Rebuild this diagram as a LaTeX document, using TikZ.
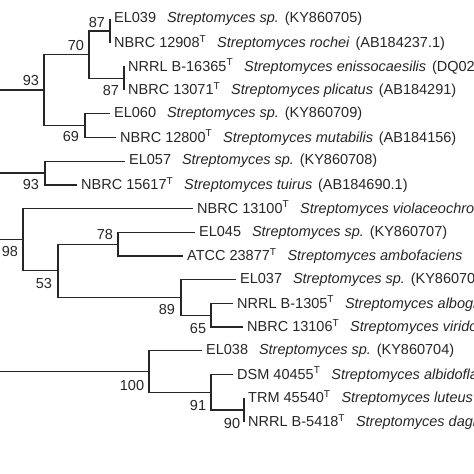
\documentclass[tikz,border=0pt]{standalone}
\usepackage{fontspec}
\setmainfont{Liberation Sans}
\usetikzlibrary{positioning}
\newcommand{\typestr}{\textsuperscript{T}}
\newcommand{\spname}[1]{\hspace{0.75em}\textit{#1}\hspace{0.4em}}

\tikzset{
  branch/.style={line width=1.3pt, black!85},
  leaf/.style={anchor=west, inner xsep=4pt, inner ysep=0pt, font=\fontsize{14.5}{17}\selectfont, text=black!85},
  boot/.style={font=\fontsize{14.5}{17}\selectfont, text=black!85, inner sep=0pt},
}

\begin{document}
\begin{tikzpicture}[x=1pt, y=-1pt]
    \useasboundingbox (0,0) rectangle (474,474);
    \clip (0,0) rectangle (474,474);

    % root stubs (cut at the left edge)
    \coordinate (r1) at (-5,90.1);
    \coordinate (r2) at (-5,173);
    \coordinate (r3) at (-5,239.7);
    \coordinate (r4) at (-5,371.6);

    % internal nodes
    \coordinate (n93a) at (44,90.1);
    \coordinate (n70) at (89,54.6);
    \coordinate (n87a) at (110,30.9);
    \coordinate (n87b) at (124,78.3);
    \coordinate (n69) at (85,125.7);
    \coordinate (n93b) at (45,173);
    \coordinate (n98) at (23,239.7);
    \coordinate (n53) at (58,270.8);
    \coordinate (n78) at (118,244.2);
    \coordinate (n89) at (181,297.5);
    \coordinate (n65) at (211,315.3);
    \coordinate (n100) at (149,371.6);
    \coordinate (n91) at (211,392.3);
    \coordinate (n90) at (244,410);

    % leaves
    \node[leaf] (l1) at (110,19) {EL039\spname{Streptomyces sp.}(KY860705)};
    \node[leaf] (l2) at (110,42.7) {NBRC 12908\typestr\spname{Streptomyces rochei}(AB184237.1)};
    \node[leaf] (l3) at (124,66.4) {NRRL B-16365\typestr\spname{Streptomyces enissocaesilis}(DQ026641)};
    \node[leaf] (l4) at (124,90.1) {NBRC 13071\typestr\spname{Streptomyces plicatus}(AB184291)};
    \node[leaf] (l5) at (110,113.8) {EL060\spname{Streptomyces sp.}(KY860709)};
    \node[leaf] (l6) at (116,137.5) {NBRC 12800\typestr\spname{Streptomyces mutabilis}(AB184156)};
    \node[leaf] (l7) at (125,161.2) {EL057\spname{Streptomyces sp.}(KY860708)};
    \node[leaf] (l8) at (77,184.9) {NBRC 15617\typestr\spname{Streptomyces tuirus}(AB184690.1)};
    \node[leaf] (l9) at (193,208.6) {NBRC 13100\typestr\spname{Streptomyces violaceochromogenes}};
    \node[leaf] (l10) at (195,232.3) {EL045\spname{Streptomyces sp.}(KY860707)};
    \node[leaf] (l11) at (183,256) {ATCC 23877\typestr\spname{Streptomyces ambofaciens}};
    \node[leaf] (l12) at (236,279.7) {EL037\spname{Streptomyces sp.}(KY860706)};
    \node[leaf] (l13) at (233,303.4) {NRRL B-1305\typestr\spname{Streptomyces albogriseolus}};
    \node[leaf] (l14) at (243,327.1) {NBRC 13106\typestr\spname{Streptomyces viridodiastaticus}};
    \node[leaf] (l15) at (202,350.8) {EL038\spname{Streptomyces sp.}(KY860704)};
    \node[leaf] (l16) at (233,374.5) {DSM 40455\typestr\spname{Streptomyces albidoflavus}};
    \node[leaf] (l17) at (244,398.2) {TRM 45540\typestr\spname{Streptomyces luteus}};
    \node[leaf] (l18) at (244,421.9) {NRRL B-5418\typestr\spname{Streptomyces daghestanicus}};

    % branches
    \draw[branch] (r1) -- (n93a);
    \draw[branch] (n93a) |- (n70);
    \draw[branch] (n93a) |- (n69);
    \draw[branch] (n70) |- (n87a);
    \draw[branch] (n70) |- (n87b);
    \draw[branch] (n87a) |- (l1.west);
    \draw[branch] (n87a) |- (l2.west);
    \draw[branch] (n87b) |- (l3.west);
    \draw[branch] (n87b) |- (l4.west);
    \draw[branch] (n69) |- (l5.west);
    \draw[branch] (n69) |- (l6.west);

    \draw[branch] (r2) -- (n93b);
    \draw[branch] (n93b) |- (l7.west);
    \draw[branch] (n93b) |- (l8.west);

    \draw[branch] (r3) -- (n98);
    \draw[branch] (n98) |- (l9.west);
    \draw[branch] (n98) |- (n53);
    \draw[branch] (n53) |- (n78);
    \draw[branch] (n53) |- (n89);
    \draw[branch] (n78) |- (l10.west);
    \draw[branch] (n78) |- (l11.west);
    \draw[branch] (n89) |- (l12.west);
    \draw[branch] (n89) |- (n65);
    \draw[branch] (n65) |- (l13.west);
    \draw[branch] (n65) |- (l14.west);

    \draw[branch] (r4) -- (n100);
    \draw[branch] (n100) |- (l15.west);
    \draw[branch] (n100) |- (n91);
    \draw[branch] (n91) |- (l16.west);
    \draw[branch] (n91) |- (n90);
    \draw[branch] (n90) |- (l17.west);
    \draw[branch] (n90) |- (l18.west);

    % bootstrap values
    \node[boot] (s87a) at (97,23) {87};
    \node[boot] (s70) at (76,46) {70};
    \node[boot] (s93a) at (31,81) {93};
    \node[boot] (s87b) at (111,91) {87};
    \node[boot] (s69) at (71,137) {69};
    \node[boot] (s93b) at (31,185) {93};
    \node[boot] (s98) at (10,252) {98};
    \node[boot] (s78) at (105,235) {78};
    \node[boot] (s53) at (44,284) {53};
    \node[boot] (s89) at (167,310) {89};
    \node[boot] (s65) at (198,329) {65};
    \node[boot] (s100) at (132,386) {100};
    \node[boot] (s91) at (198,406) {91};
    \node[boot] (s90) at (232,424) {90};
\end{tikzpicture}
\end{document}
